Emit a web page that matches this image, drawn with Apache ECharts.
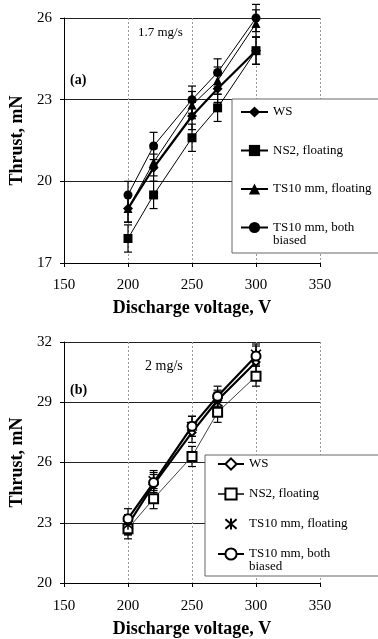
<!DOCTYPE html>
<html><head><meta charset="utf-8">
<script src="https://cdn.jsdelivr.net/npm/echarts@6/dist/echarts.min.js"></script>
<style>html,body{margin:0;padding:0;background:#fff}#c{width:378px;height:639px}</style>
</head><body><div id="c"></div>
<script>
const voltages = [200, 220, 250, 270, 300];
const xTicks = [150, 200, 250, 300, 350];
const seriesNames = ['WS', 'NS2, floating', 'TS10 mm, floating', 'TS10 mm, both biased'];
// (a) 1.7 mg/s
const wsA = [19.0, 20.5, 22.4, 23.4, 24.8];
const ns2A = [17.9, 19.5, 21.6, 22.7, 24.8];
const tsFloatA = [19.0, 20.7, 22.8, 23.7, 25.8];
const tsBiasA = [19.5, 21.3, 23.0, 24.0, 26.0];
const errA = [0.5, 0.5, 0.5, 0.5, 0.5];
// (b) 2 mg/s
const wsB = [22.9, 24.9, 27.5, 29.1, 31.0];
const ns2B = [22.7, 24.2, 26.3, 28.5, 30.3];
const tsFloatB = [22.9, 25.1, 27.8, 29.0, 31.4];
const tsBiasB = [23.2, 25.0, 27.8, 29.3, 31.3];
const errB = [0.5, 0.5, 0.5, 0.5, 0.5];
const yTicksA = [17, 20, 23, 26];
const yTicksB = [20, 23, 26, 29, 32];

const FONT = 'Liberation Serif';
const pairs = (ys) => voltages.map((v, i) => [v, ys[i]]);
function errData(list, err) {
  const out = [];
  list.forEach(ys => ys.forEach((y, i) => out.push([voltages[i], y - err[i], y + err[i]])));
  return out;
}
function errSeries(idx, data) {
  return {
    type: 'custom', xAxisIndex: idx, yAxisIndex: idx, z: 1, silent: true,
    data: data,
    renderItem: function (params, api) {
      const x = api.value(0);
      const lo = api.coord([x, api.value(1)]);
      const hi = api.coord([x, api.value(2)]);
      const w = 4;
      const st = { stroke: '#000', lineWidth: 1.2 };
      return { type: 'group', children: [
        { type: 'line', shape: { x1: lo[0], y1: lo[1], x2: hi[0], y2: hi[1] }, style: st },
        { type: 'line', shape: { x1: lo[0] - w, y1: lo[1], x2: lo[0] + w, y2: lo[1] }, style: st },
        { type: 'line', shape: { x1: hi[0] - w, y1: hi[1], x2: hi[0] + w, y2: hi[1] }, style: st }
      ]};
    }
  };
}
function lineS(name, idx, ys, symbol, size, lw, extra) {
  return Object.assign({
    name: name, type: 'line', xAxisIndex: idx, yAxisIndex: idx, data: pairs(ys),
    symbol: symbol, symbolSize: size, z: 3,
    lineStyle: { color: '#000', width: lw },
    itemStyle: { color: '#000' }
  }, extra || {});
}
const star = 'path://M0,0L10,10M10,0L0,10M5,-1L5,11';

function xAx(idx, labelMargin, nameGap) {
  return {
    type: 'value', gridIndex: idx, min: 150, max: 350, interval: 50,
    name: 'Discharge voltage, V', nameLocation: 'middle', nameGap: nameGap,
    nameTextStyle: { fontFamily: FONT, fontWeight: 'bold', fontSize: 18, color: '#000' },
    axisLine: { lineStyle: { color: '#000', width: 1 } },
    axisTick: { show: true, length: 4, lineStyle: { color: '#000' } },
    axisLabel: { fontFamily: FONT, fontSize: 15, color: '#000', margin: labelMargin,
      formatter: v => xTicks.includes(v) ? String(v) : '' },
    splitLine: { show: true, lineStyle: { color: '#999', type: [2, 2], width: 1 } }
  };
}
function yAx(idx, min, max, ticks) {
  return {
    type: 'value', gridIndex: idx, min: min, max: max, interval: 3,
    name: 'Thrust, mN', nameLocation: 'middle', nameGap: 38,
    nameTextStyle: { fontFamily: FONT, fontWeight: 'bold', fontSize: 18, color: '#000' },
    axisLine: { show: true, lineStyle: { color: '#000', width: 1 } },
    axisTick: { show: true, length: 4, lineStyle: { color: '#000' } },
    axisLabel: { fontFamily: FONT, fontSize: 15, color: '#000', margin: 12,
      formatter: v => ticks.includes(v) ? String(v) : '' },
    splitLine: { show: true, lineStyle: { color: '#222', width: 1 } }
  };
}
const legendData = prefix => seriesNames.map(n => prefix + n);
// three text lines per item so the first label line sits at the icon
const fmt = n => {
  const t = n.slice(2);
  return t === 'TS10 mm, both biased' ? '\nTS10 mm, both\nbiased' : '\n' + t + '\n';
};

const chart = echarts.init(document.getElementById('c'), null, { renderer: 'canvas' });
chart.setOption({
  animation: false,
  backgroundColor: '#fff',
  grid: [
    { left: 62, top: 18, right: 58, height: 245 },
    { left: 63, top: 342, right: 58, height: 246 }
  ],
  xAxis: [xAx(0, 15, 36), xAx(1, 16, 37)],
  yAxis: [yAx(0, 17, 26, yTicksA), yAx(1, 20, 32, yTicksB)],
  legend: [
    { left: 232, top: 99, orient: 'vertical', data: legendData('a:'), formatter: fmt,
      itemWidth: 27, itemHeight: 14, itemGap: -0.5, padding: [-6.5, 9, 6, 8],
      backgroundColor: '#fff', borderColor: '#666', borderWidth: 1, selectedMode: false,
      textStyle: { fontFamily: FONT, fontSize: 13, color: '#000', lineHeight: 13 } },
    { left: 205, top: 455, orient: 'vertical', data: legendData('b:'), formatter: fmt,
      itemWidth: 26, itemHeight: 14, itemGap: -9, padding: [-10.5, 40, 2.5, 12],
      backgroundColor: '#fff', borderColor: '#666', borderWidth: 1, selectedMode: false,
      textStyle: { fontFamily: FONT, fontSize: 13, color: '#000', lineHeight: 13 } }
  ],
  graphic: [
    { type: 'text', left: 138, top: 26, style: { text: '1.7 mg/s', font: '13px "Liberation Serif"', fill: '#000' } },
    { type: 'text', left: 70, top: 73, style: { text: '(a)', font: 'bold 14px "Liberation Serif"', fill: '#000' } },
    { type: 'text', left: 145, top: 359, style: { text: '2 mg/s', font: '14px "Liberation Serif"', fill: '#000' } },
    { type: 'text', left: 70, top: 383, style: { text: '(b)', font: 'bold 14px "Liberation Serif"', fill: '#000' } }
  ],
  series: [
    errSeries(0, errData([wsA, ns2A, tsFloatA, tsBiasA], errA)),
    lineS('a:WS', 0, wsA, 'diamond', 10, 2.2),
    lineS('a:NS2, floating', 0, ns2A, 'rect', 9, 1),
    lineS('a:TS10 mm, floating', 0, tsFloatA, 'triangle', 9, 1),
    lineS('a:TS10 mm, both biased', 0, tsBiasA, 'circle', 9, 1),
    errSeries(1, errData([wsB, ns2B, tsFloatB, tsBiasB], errB)),
    lineS('b:WS', 1, wsB, 'emptyDiamond', 7, 2.2),
    lineS('b:NS2, floating', 1, ns2B, 'emptyRect', 9, 1, { lineStyle: { color: '#444', width: 1 } }),
    lineS('b:TS10 mm, floating', 1, tsFloatB, star, 10, 0, {
      lineStyle: { color: '#000', width: 0, opacity: 0 },
      itemStyle: { color: '#000', borderColor: '#000', borderWidth: 1.5 } }),
    lineS('b:TS10 mm, both biased', 1, tsBiasB, 'emptyCircle', 9, 2.2)
  ]
});
</script></body></html>
